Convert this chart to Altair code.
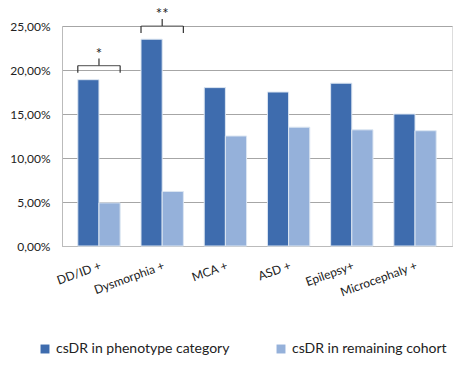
import altair as alt
import pandas as pd

# Phenotype categories and the csDR rate of each group
categories = ["DD/ID +", "Dysmorphia +", "MCA +", "ASD +", "Epilepsy+", "Microcephaly +"]
in_category = [0.189, 0.235, 0.180, 0.175, 0.185, 0.150]
remaining = [0.049, 0.062, 0.125, 0.135, 0.132, 0.131]
series_names = ["csDR in phenotype category", "csDR in remaining cohort"]

# Significance brackets: category, bracket level, marker
sig_categories = ["DD/ID +", "Dysmorphia +"]
sig_levels = [0.205, 0.250]
sig_marks = ["*", "**"]

rows = []
for c, a, b in zip(categories, in_category, remaining):
    rows.append({"cat": c, "series": series_names[0], "value": a})
    rows.append({"cat": c, "series": series_names[1], "value": b})
bars_df = pd.DataFrame(rows)

sig_df = pd.DataFrame({"cat": sig_categories, "level": sig_levels, "mark": sig_marks,
                       "foot": [l - 0.008 for l in sig_levels],
                       "tip": [l + 0.008 for l in sig_levels],
                       "txt": [l + 0.011 for l in sig_levels]})

font = "Lato"
ink = "#333333"
x_scale = alt.Scale(paddingInner=0.33, paddingOuter=0.25)
y_scale = alt.Scale(domain=[0, 0.25])

x_enc = alt.X("cat:N", sort=categories, title=None, scale=x_scale,
              axis=alt.Axis(labelAngle=-20, labelAlign="right", labelBaseline="top",
                            labelFontSize=12, labelColor="#222", labelFont=font,
                            ticks=False, domain=True, domainColor="#bbbbbb",
                            labelPadding=14))

bars = alt.Chart(bars_df).mark_bar(stroke="#dce6f2", strokeWidth=1).encode(
    x=x_enc,
    xOffset=alt.XOffset("series:N", sort=series_names, scale=alt.Scale(paddingInner=0)),
    y=alt.Y("value:Q", scale=y_scale, title=None,
            axis=alt.Axis(values=[0, 0.05, 0.10, 0.15, 0.20, 0.25],
                          labelExpr="replace(format(datum.value, '.2%'), '.', ',')",
                          labelFontSize=12, labelColor="#222", labelFont=font,
                          grid=True, gridColor="#a6a6a6", gridWidth=1,
                          ticks=False, domain=True, domainColor="#bbbbbb",
                          labelPadding=12)),
    color=alt.Color("series:N", sort=series_names,
                    scale=alt.Scale(domain=series_names, range=["#3e6cae", "#95b1da"]),
                    legend=alt.Legend(title=None, orient="none", direction="horizontal",
                                      legendX=-24, legendY=316, symbolType="square",
                                      symbolSize=80, symbolStrokeWidth=0,
                                      labelFontSize=14, labelFont=font, labelColor="#222",
                                      columnPadding=44, labelLimit=300)),
)

# Bracket legs at the outer edges of each bar pair
left_leg = alt.Chart(sig_df).mark_rule(color=ink, strokeWidth=1.2).encode(
    x=alt.X("cat:N", sort=categories, bandPosition=0),
    y=alt.Y("level:Q", scale=y_scale),
    y2="foot:Q",
)
right_leg = alt.Chart(sig_df).mark_rule(color=ink, strokeWidth=1.2).encode(
    x=alt.X("cat:N", sort=categories, bandPosition=1),
    y=alt.Y("level:Q", scale=y_scale),
    y2="foot:Q",
)

span = alt.Chart(sig_df).mark_tick(color=ink, thickness=1.2, size=42, orient="horizontal").encode(
    x=alt.X("cat:N", sort=categories),
    y=alt.Y("level:Q", scale=y_scale),
)

tip = alt.Chart(sig_df).mark_rule(color=ink, strokeWidth=1.2).encode(
    x=alt.X("cat:N", sort=categories),
    y=alt.Y("level:Q", scale=y_scale),
    y2="tip:Q",
)

stars = alt.Chart(sig_df).mark_text(fontSize=15, font=font, color="#222", baseline="bottom", dy=6).encode(
    x=alt.X("cat:N", sort=categories),
    y=alt.Y("txt:Q", scale=y_scale),
    text="mark:N",
)

chart = alt.layer(bars, left_leg, right_leg, span, tip, stars).properties(
    width=390, height=220,
    autosize=alt.AutoSizeParams(type="none"),
    padding={"left": 62, "top": 26, "right": 22, "bottom": 126},
).configure_view(stroke=None).configure(background="white")

chart.save("out.html", embed_options={"renderer": "svg", "actions": False})
